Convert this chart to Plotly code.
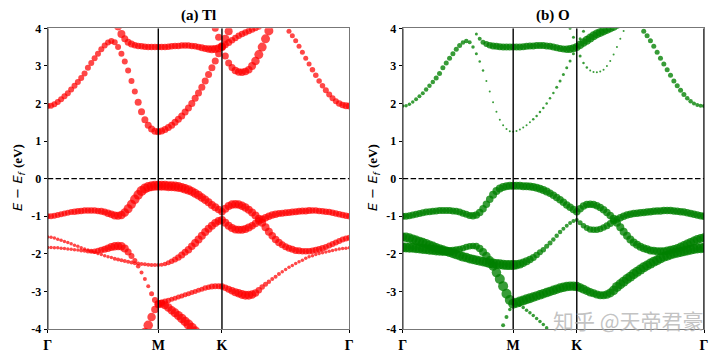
import plotly.graph_objects as go

# ---------------- data ----------------
k_ticks = [0, 33, 52, 90]
k_labels = ["Γ", "M", "K", "Γ"]
y_ticks = [-4, -3, -2, -1, 0, 1, 2, 3, 4]
y_labels = ["-4", "-3", "-2", "-1", "0", "1", "2", "3", "4"]

# conduction band 1 (Γ -> M -> K), starts at k index 0
c1_start = 0
c1_e = [1.93, 1.94, 1.98, 2.04, 2.11, 2.19, 2.27, 2.37, 2.47, 2.57,
        2.68, 2.8, 2.95, 3.08, 3.2, 3.32, 3.44, 3.54, 3.62, 3.66,
        3.63, 3.5, 3.32, 3.12, 2.88, 2.6, 2.32, 2.03, 1.78, 1.57,
        1.42, 1.32, 1.26, 1.25,
        1.27, 1.31, 1.36, 1.42, 1.5, 1.58, 1.67, 1.77, 1.88, 2.0,
        2.14, 2.28, 2.43, 2.6, 2.77, 2.95, 3.13, 3.32, 3.52,
        3.72, 3.92, 4.12]
c1_tl = [6, 6, 6, 6, 6, 6, 6, 6, 6, 6, 6, 6, 6, 6, 6, 6, 6, 6, 6, 6,
         6, 6, 6, 6, 6, 6, 6, 7, 7, 7, 7, 7, 7, 7,
         7, 7, 7, 7, 7, 7, 7, 7, 7, 7, 7, 7, 7, 7, 7, 7, 7, 7, 8,
         8, 8, 8]
c1_o = [3.5, 3.5, 3.5, 3.5, 4, 4, 4, 4.5, 4.5, 4.5, 5, 5, 5, 5, 5, 5, 5, 5, 4.5, 4.5,
        4, 3.5, 3, 2.5, 2.5, 2, 2, 2, 2, 2, 2, 2, 2, 2,
        2, 2, 2, 2, 2, 2.5, 2.5, 2.5, 2.5, 2.5, 2.5, 2.5, 3, 3, 3, 3, 3, 3, 3,
        3, 3, 3]

# flat conduction band (~3.5 eV), starts at k index 20
c3_start = 20
c3_e = [4.25, 4.05, 3.85, 3.72, 3.63, 3.58, 3.55, 3.53, 3.52, 3.51,
        3.5, 3.5, 3.5, 3.5,
        3.5, 3.5, 3.51, 3.52, 3.53, 3.53, 3.54, 3.54, 3.54, 3.53,
        3.52, 3.5, 3.48, 3.46, 3.45, 3.44, 3.45, 3.47, 3.5,
        3.56, 3.62, 3.68, 3.74, 3.8, 3.85, 3.89, 3.93, 3.97, 4.01,
        4.05, 4.1]
c3_tl = [8, 8, 8, 7, 7, 7, 6.5, 6.5, 6.5, 6.5, 6.5, 6.5, 6.5, 6.5,
         6.5, 6.5, 6.5, 6.5, 6.5, 6.5, 6.5, 6.5, 6.5, 6.5, 6.5, 6.5, 7, 7, 7.5, 8, 8, 8, 8,
         7, 7, 6.5, 6.5, 6.5, 6.5, 6.5, 6.5, 6.5, 6.5, 6.5, 6.5]
c3_o = [2.5, 2.5, 3, 4, 5, 6, 6.5, 7, 7, 7, 7, 7, 7, 7,
        7, 7, 7, 7, 7, 7, 7, 7, 7, 7, 7, 7, 7, 7, 7, 7.5, 8, 8, 8,
        8.5, 8.5, 9, 9, 9, 9, 9, 9, 9, 9, 9, 9]

# conduction band through K minimum (~2.85 eV) back to Γ, starts at k index 49
c4_start = 49
c4_e = [4.25, 4.0, 3.76, 3.5,
        3.26, 3.08, 2.96, 2.88, 2.84, 2.83, 2.85, 2.9, 3.0, 3.13,
        3.3, 3.5, 3.72, 3.93, 4.12, 4.25, 4.3, 4.25, 4.1, 3.92,
        3.8, 3.67, 3.52, 3.36, 3.2, 3.05, 2.9, 2.75, 2.6, 2.47,
        2.35, 2.24, 2.14, 2.06, 2.0, 1.96, 1.94, 1.93]
c4_tl = [7, 7, 7, 7,
         7, 7, 7, 7.5, 7.5, 7.5, 7.5, 7.5, 8, 8.5,
         9, 9, 9, 9, 9, 8, 7, 6, 5, 5,
         5, 5, 5, 5, 5, 5, 5.5, 5.5, 5.5, 5.5,
         6, 6, 6, 6, 6.5, 6.5, 7, 7]
c4_o = [3, 3, 3, 3,
        3, 2.5, 2.5, 2, 2, 2, 2, 2, 2, 2,
        2, 2, 2, 2, 2, 3, 3.5, 4, 4.5, 5,
        5, 5, 5, 5, 5, 5, 5, 5, 5, 5,
        5, 5, 4.5, 4.5, 4, 4, 4, 4]

# top valence band, starts at k index 0
v1_start = 0
v1_e = [-1.0, -1.0, -0.99, -0.97, -0.95, -0.93, -0.91, -0.89, -0.88, -0.87,
        -0.86, -0.85, -0.85, -0.85, -0.85, -0.86, -0.87, -0.89, -0.92, -0.95,
        -0.98, -0.99, -0.97, -0.9, -0.8, -0.68, -0.55, -0.43, -0.33, -0.26,
        -0.22, -0.2, -0.19, -0.19,
        -0.19, -0.19, -0.2, -0.2, -0.21, -0.22, -0.24, -0.27, -0.3, -0.34,
        -0.39, -0.44, -0.5, -0.56, -0.63, -0.7, -0.76, -0.82, -0.88,
        -0.8, -0.73, -0.69, -0.68, -0.69, -0.72, -0.77, -0.83, -0.9, -0.98,
        -1.07, -1.17, -1.29, -1.41, -1.52, -1.62, -1.7, -1.76, -1.81, -1.85,
        -1.88, -1.91, -1.92, -1.93, -1.93, -1.93, -1.92, -1.9, -1.88, -1.85,
        -1.82, -1.78, -1.74, -1.7, -1.66, -1.62, -1.59, -1.57]
v1_tl = [6, 6, 6, 6, 6, 6, 6, 6, 6.5, 6.5, 6.5, 6.5, 6.5, 6.5, 6.5, 6.5, 7, 7, 7.5, 7.5,
         8, 8, 8.5, 8.5, 9, 9, 9.5, 9.5, 10, 10, 10, 10, 10, 10,
         10, 10, 10, 10, 10, 10, 9.5, 9.5, 9.5, 9, 9, 9, 8.5, 8.5, 8, 8, 8, 7.5, 7.5,
         8, 8, 8.5, 8.5, 8.5, 8.5, 8.5, 8, 8, 8, 8, 8, 8, 8, 7.5, 7.5, 7.5, 7, 7, 7,
         7, 7, 7, 6.5, 6.5, 6.5, 6.5, 6.5, 6.5, 6.5, 6, 6, 6, 6, 6, 6, 6, 6]
v1_o = [7, 7, 7, 7, 7, 7, 7, 7, 7, 7, 7, 7, 7, 7, 7, 7, 7, 7, 7, 7,
        7, 7.5, 7.5, 7.5, 7.5, 7.5, 7.5, 8, 8, 8, 8, 8, 8, 8,
        8, 8, 8, 8, 8, 8, 8, 8, 8, 8, 7.5, 7.5, 7.5, 7.5, 7.5, 7.5, 7.5, 7.5, 7.5,
        7.5, 7.5, 7.5, 7.5, 7.5, 7.5, 7.5, 7.5, 7.5, 7.5, 8, 8, 8, 8, 8, 8, 8, 8, 8, 8,
        8, 8, 8, 8, 8, 8, 8.5, 8.5, 8.5, 8.5, 9, 9, 9, 9, 9, 9, 9, 9]

# second valence band (Γ -1.55 -> M -2.3 -> K -1.1 -> Γ -1.0)
v2_start = 0
v2_e = [-1.55, -1.56, -1.58, -1.61, -1.64, -1.67, -1.7, -1.73, -1.77, -1.8,
        -1.84, -1.87, -1.9, -1.93, -1.96, -1.99, -2.02, -2.05, -2.08, -2.1,
        -2.13, -2.15, -2.17, -2.19, -2.21, -2.23, -2.25, -2.26, -2.27, -2.28,
        -2.29, -2.3, -2.3, -2.3,
        -2.29, -2.27, -2.24, -2.2, -2.15, -2.1, -2.03, -1.96, -1.89, -1.8,
        -1.71, -1.62, -1.52, -1.42, -1.33, -1.25, -1.18, -1.13, -1.1,
        -1.17, -1.25, -1.31, -1.35, -1.36, -1.36, -1.34, -1.3, -1.25, -1.19,
        -1.13, -1.08, -1.04, -1.0, -0.97, -0.95, -0.93, -0.92, -0.91, -0.9,
        -0.89, -0.88, -0.87, -0.86, -0.86, -0.85, -0.85, -0.85, -0.86, -0.87,
        -0.88, -0.89, -0.91, -0.93, -0.95, -0.97, -0.99, -1.0]
v2_tl = [3.5, 3.5, 3.5, 3.5, 3.5, 3.5, 3.5, 3.5, 3.5, 3.5, 3.5, 3.5, 3.5, 3.5, 3.5, 3.5, 3.5, 3.5, 3.5, 3.5,
         4, 4, 4, 4, 4, 4, 4, 4, 4, 4, 4, 4, 4, 4,
         4, 4.5, 5, 5.5, 6, 6.5, 7, 7, 7.5, 7.5, 8, 8, 8, 8, 8, 8, 8, 8, 8,
         8, 8, 8, 8, 8, 8, 8, 8, 7.5, 7.5, 7.5, 7.5, 7.5, 7.5, 7.5, 7.5, 7, 7, 7, 7,
         7, 7, 7, 7, 7, 7, 6.5, 6.5, 6.5, 6.5, 6.5, 6.5, 6.5, 6.5, 6.5, 6.5, 6.5, 6.5]
v2_o = [9, 9.5, 9.5, 9.5, 9.5, 9.5, 9.5, 9.5, 9.5, 9.5, 9.5, 9.5, 9.5, 9.5, 9.5, 9.5, 9.5, 9.5, 9.5, 9.5,
        9.5, 9.5, 9.5, 9.5, 9.5, 9.5, 10, 10, 10, 10, 10, 10, 10, 10,
        9.5, 9, 8.5, 8, 7.5, 7, 6.5, 6, 5.5, 5, 5, 4.5, 4.5, 4.5, 4, 4, 4, 4, 4,
        5, 5.5, 6, 6.5, 6.5, 6.5, 6.5, 6.5, 7, 7, 7, 7, 7.5, 7.5, 7.5, 7.5, 7.5, 7.5, 7.5, 7.5,
        7.5, 7.5, 7.5, 7.5, 7.5, 7.5, 7.5, 7.5, 7.5, 7.5, 7.5, 7.5, 7.5, 7.5, 7.5, 7.5, 7.5, 7.5]

# third valence band (Γ -1.83 -> bump -> M -3.33 -> K -2.87 -> Γ -1.84)
v3_start = 0
v3_e = [-1.83, -1.83, -1.84, -1.84, -1.85, -1.86, -1.87, -1.88, -1.89, -1.9,
        -1.91, -1.92, -1.93, -1.93, -1.93, -1.92, -1.9, -1.88, -1.85, -1.82,
        -1.8, -1.79, -1.8, -1.86, -1.95, -2.06, -2.18, -2.33, -2.5, -2.67,
        -2.86, -3.06, -3.23, -3.33,
        -3.3, -3.27, -3.24, -3.21, -3.18, -3.15, -3.12, -3.09, -3.06, -3.03,
        -3.0, -2.97, -2.94, -2.91, -2.89, -2.87, -2.86, -2.86, -2.87,
        -2.9, -2.94, -2.98, -3.02, -3.05, -3.08, -3.1, -3.1, -3.08, -3.04,
        -2.97, -2.88, -2.81, -2.74, -2.67, -2.61, -2.54, -2.48, -2.42, -2.36,
        -2.31, -2.26, -2.21, -2.17, -2.12, -2.08, -2.05, -2.02, -1.99, -1.97,
        -1.95, -1.93, -1.91, -1.89, -1.87, -1.86, -1.85, -1.84]
v3_tl = [3.5, 3.5, 3.5, 3.5, 3.5, 3.5, 3.5, 3.5, 3.5, 3.5, 4, 4, 4.5, 5, 5.5, 6, 6.5, 7, 7.5, 8,
         8.5, 8.5, 8.5, 8, 7, 6, 5, 4.5, 4, 4, 4, 5, 6, 7,
         6.5, 6, 5.5, 5, 5, 5, 5, 5, 5, 5, 5, 5, 5, 5.5, 5.5, 6, 6, 6, 6.5,
         6.5, 7, 7.5, 8, 8.5, 9, 9, 9, 8.5, 7.5, 6.5, 5.5, 5, 4.5, 4, 4, 4, 3.5, 3.5, 3.5,
         3.5, 3.5, 3.5, 3.5, 3.5, 3.5, 3.5, 3.5, 3.5, 3.5, 3.5, 3.5, 3.5, 3.5, 3.5, 3.5, 3.5, 3.5]
v3_o = [10, 10, 10, 10, 10, 10, 10, 10, 10, 10, 10, 10, 9.5, 9, 8.5, 8, 7.5, 7, 6.5, 6.5,
        6.5, 6.5, 7, 7.5, 8, 8.5, 9, 9, 9.5, 10, 10, 10, 10, 10,
        10, 10, 10, 10, 10, 9.5, 9.5, 9.5, 9.5, 9.5, 9.5, 9.5, 9.5, 9.5, 9.5, 9.5, 9.5, 9.5, 9.5,
        9, 9, 8.5, 8.5, 8, 8, 8, 8, 8.5, 9, 9.5, 10, 10, 10, 10, 10, 10, 10, 10, 10,
        10, 10, 10, 10, 10, 10, 10, 10, 10, 10, 10, 10, 10, 10, 10, 10, 10, 10]

# deep band touching M at -3.33, starts at k index 29
v4_start = 29
v4_e = [-4.1, -3.9, -3.68, -3.48, -3.34, -3.33, -3.37, -3.43, -3.5, -3.57,
        -3.64, -3.72, -3.8, -3.88, -3.97, -4.06, -4.15]
v4_tl = [10, 9.5, 8.5, 7.5, 8, 8, 8, 8.5, 8.5, 9, 9, 9.5, 9.5, 10, 10, 10, 10]
v4_o = [4, 4, 4, 3.5, 3.5, 3.5, 3.5, 3.5, 3.5, 3.5, 3.5, 3.5, 3.5, 3.5, 3.5, 3.5, 3.5]

bands = [
    (c1_start, c1_e, c1_tl, c1_o),
    (c3_start, c3_e, c3_tl, c3_o),
    (c4_start, c4_e, c4_tl, c4_o),
    (v1_start, v1_e, v1_tl, v1_o),
    (v2_start, v2_e, v2_tl, v2_o),
    (v3_start, v3_e, v3_tl, v3_o),
    (v4_start, v4_e, v4_tl, v4_o),
]

# ---------------- figure ----------------
fig = go.Figure()
RED = "rgb(255,0,0)"
GREEN = "rgb(0,128,0)"

for start, e, s_tl, s_o in bands:
    n = min(len(e), len(s_tl), len(s_o))
    kk = list(range(start, start + n))
    fig.add_trace(go.Scatter(x=kk, y=e[:n], mode="markers", xaxis="x", yaxis="y",
                             marker=dict(size=s_tl[:n], color=RED, opacity=0.72,
                                         line=dict(width=0)),
                             showlegend=False, hoverinfo="skip"))
    fig.add_trace(go.Scatter(x=kk, y=e[:n], mode="markers", xaxis="x2", yaxis="y2",
                             marker=dict(size=s_o[:n], color=GREEN, opacity=0.78,
                                         line=dict(width=0)),
                             showlegend=False, hoverinfo="skip"))

W, H = 720, 360
top_px, bot_px = 28.3, 329.0
ydom = [(H - bot_px) / H, (H - top_px) / H]
xdom1 = [47.7 / W, 349.3 / W]
xdom2 = [402.7 / W, 704.0 / W]

serif = "Liberation Serif"
tickfont_x = dict(family=serif, size=14, color="black", weight="bold")
tickfont_y = dict(family=serif, size=12, color="black", weight="bold")

def xax(dom, anchor):
    return dict(domain=dom, anchor=anchor, range=[k_ticks[0], k_ticks[-1]],
                tickmode="array", tickvals=k_ticks, ticktext=k_labels,
                ticks="outside", ticklen=3, tickwidth=1, tickcolor="black",
                showgrid=False, zeroline=False, showline=True, mirror=True,
                linecolor="#777777", linewidth=1.2, tickfont=tickfont_x,
                automargin=False)

def yax(anchor):
    return dict(domain=ydom, anchor=anchor, range=[-4, 4],
                tickmode="array", tickvals=y_ticks, ticktext=y_labels,
                ticks="outside", ticklen=3, tickwidth=1, tickcolor="black",
                showgrid=False, zeroline=False, showline=True, mirror=True,
                linecolor="#777777", linewidth=1.2, tickfont=tickfont_y,
                automargin=False)

shapes = []
for xr, yr, vl in (("x", "y", k_ticks[:3]), ("x2", "y2", k_ticks)):
    for kv in vl:
        shapes.append(dict(type="line", xref=xr, yref=yr, x0=kv, x1=kv, y0=-4, y1=4,
                           line=dict(color="black", width=1.4), layer="above"))
    shapes.append(dict(type="line", xref=xr, yref=yr, x0=k_ticks[0], x1=k_ticks[-1],
                       y0=0, y1=0, line=dict(color="black", width=1.3, dash="5.5px,2.4px"),
                       layer="above"))

ylabel = ('<i>E</i> − <i>E</i><sub><i>f</i></sub> '
          '<span style="font-family:Liberation Serif"><b>(eV)</b></span>')

annotations = [
    dict(text="<b>(a) Tl</b>", x=(xdom1[0] + xdom1[1]) / 2, y=(H - 16) / H,
         xref="paper", yref="paper", showarrow=False, xanchor="center", yanchor="middle",
         font=dict(family=serif, size=15, color="black")),
    dict(text="<b>(b) O</b>", x=(xdom2[0] + xdom2[1]) / 2, y=(H - 16) / H,
         xref="paper", yref="paper", showarrow=False, xanchor="center", yanchor="middle",
         font=dict(family=serif, size=15, color="black")),
    dict(text=ylabel, x=18 / W, y=(H - 178) / H, xref="paper", yref="paper",
         showarrow=False, textangle=-90, xanchor="center", yanchor="middle",
         font=dict(family="DejaVu Sans", size=13, color="black")),
    dict(text=ylabel, x=373 / W, y=(H - 178) / H, xref="paper", yref="paper",
         showarrow=False, textangle=-90, xanchor="center", yanchor="middle",
         font=dict(family="DejaVu Sans", size=13, color="black")),
    dict(text="知乎 @天帝君豪", x=628 / W, y=(H - 320) / H, xref="paper", yref="paper",
         showarrow=False, xanchor="center", yanchor="middle",
         font=dict(family="Noto Sans CJK SC", size=21, color="rgba(175,175,175,0.75)")),
]

fig.update_layout(
    width=W, height=H, margin=dict(l=0, r=0, t=0, b=0),
    paper_bgcolor="white", plot_bgcolor="white",
    xaxis=xax(xdom1, "y"), yaxis=yax("x"),
    xaxis2=xax(xdom2, "y2"), yaxis2=yax("x2"),
    shapes=shapes, annotations=annotations,
)

fig.write_html("out.html", config={"displayModeBar": False},
               post_script="document.body.style.margin='0px';document.body.style.padding='0px';")
